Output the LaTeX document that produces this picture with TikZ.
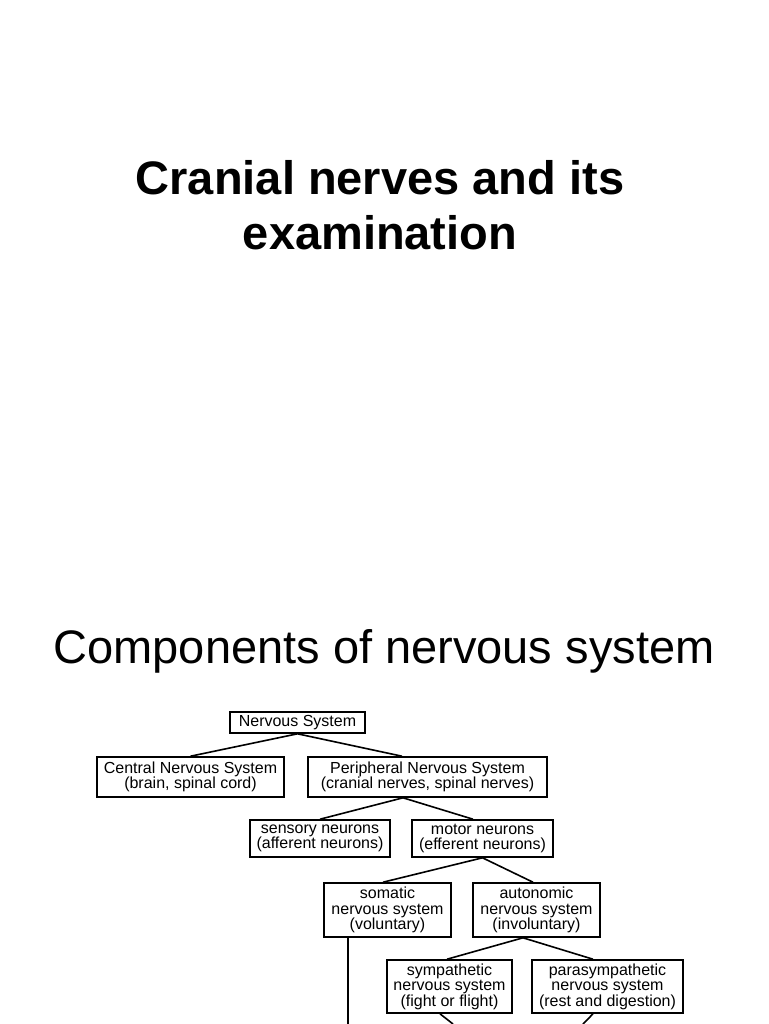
\documentclass[tikz,border=0pt]{standalone}
\usepackage{fontspec}
\setmainfont{Liberation Sans}
\begin{document}
\begin{tikzpicture}[x=1pt,y=-1pt,
  box/.style={draw,line width=1.6pt,inner sep=0pt,align=center,font=\fontsize{16}{15.5}\selectfont},
  ln/.style={line width=1.6pt}]
\useasboundingbox (0,0) rectangle (768,1024);
\node[font=\bfseries\fontsize{47}{55}\selectfont,align=center] (t) at (380,205) {Cranial nerves and its\\examination};
\node[font=\fontsize{47}{52}\selectfont] (c) at (384,651) {Components of nervous system};
\node[box,minimum width=135,minimum height=21] (ns) at (297.5,722.5) {Nervous System};
\node[box,minimum width=187,minimum height=40] (cns) at (190.5,777) {Central Nervous System\\(brain, spinal cord)};
\node[box,minimum width=239,minimum height=40] (pns) at (427.5,777) {Peripheral Nervous System\\(cranial nerves, spinal nerves)};
\node[box,minimum width=140,minimum height=37] (sen) at (320,838.5) {sensory neurons\\(afferent neurons)};
\node[box,minimum width=141,minimum height=37] (mot) at (482.5,838.5) {motor neurons\\(efferent neurons)};
\node[box,minimum width=127,minimum height=54] (som) at (387.5,910) {somatic\\nervous system\\(voluntary)};
\node[box,minimum width=127,minimum height=54] (aut) at (536.5,910) {autonomic\\nervous system\\(involuntary)};
\node[box,minimum width=125,minimum height=53] (sym) at (449.5,986.5) {sympathetic\\nervous system\\(fight or flight)};
\node[box,minimum width=151,minimum height=53] (par) at (607.5,986.5) {parasympathetic\\nervous system\\(rest and digestion)};
\coordinate (e1) at (348,1024);
\coordinate (e2) at (453,1024);
\coordinate (e3) at (583,1024);
\draw[ln] (ns.south) -- (cns.north);
\draw[ln] (ns.south) -- (pns.north -| 402,0);
\draw[ln] (pns.south -| 403,0) -- (sen.north);
\draw[ln] (pns.south -| 403,0) -- (mot.north -| 473,0);
\draw[ln] (mot.south) -- (som.north -| 383,0);
\draw[ln] (mot.south) -- (aut.north -| 533,0);
\draw[ln] (aut.south -| 523,0) -- (sym.north -| 447,0);
\draw[ln] (aut.south -| 523,0) -- (par.north -| 593,0);
\draw[ln] (som.south -| 348,0) -- (e1);
\draw[ln] (sym.south -| 440,0) -- (e2);
\draw[ln] (par.south -| 593,0) -- (e3);
\end{tikzpicture}
\end{document}
